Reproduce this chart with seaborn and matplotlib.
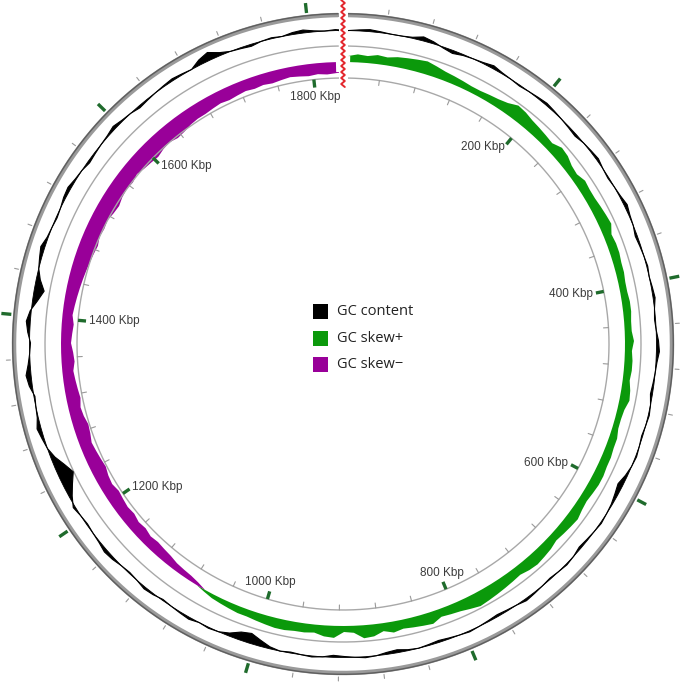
import numpy as np
import pandas as pd
import matplotlib
matplotlib.use("Agg")
import matplotlib.pyplot as plt
import seaborn as sns
from matplotlib.patches import Rectangle

# ---------------- data ----------------
genome_kbp = 1832
bin_kbp = 10
# GC content deviation per 10 kbp window (positive = outward)
gc_content = [0, 1, 2, 1, 0, 0, 1, 4, 2, -1, -3, -1, 0, 1, 3, 1, 0, -1, 0, 1,
              2, 1, 0, -1, -2, 0, 1, 2, 0, -1, 0, 1, 3, 1, 0, -2, -1, 0, 1, 0,
              1, 2, 0, -1, 0, 2, 3, 1, 0, -1, -2, 0, 1, 0, -1, 0, 1, 0, -2, -5,
              -3, -1, 0, 1, 0, -1, -2, 0, 1, 0, -1, 0, 1, 2, 0, -1, -2, -1, 0, 1,
              0, -1, -2, -1, 0, -1, -3, -2, 0, 1, 0, -1, -2, 0, 1, 0, -1, 0, -2, -6,
              -10, -8, -3, 0, 1, 0, 2, 1, 0, -1, 1, 2, 0, -1, 0, 2, 3, 1, 0, -1,
              0, 2, -3, -9, -15, -10, -4, 0, 2, 4, 1, 0, -1, 3, 5, 2, 0, -1, 2, 4,
              1, -5, -10, -4, 0, 2, 4, 1, 0, -1, 0, 2, 3, 1, 0, -2, -1, 0, 1, 3,
              1, 0, -2, -1, 0, 1, 2, 1, 0, 5, 8, 3, 0, -1, -2, 0, 1, 0, 2, 3, 1, 0, 1, 0]
# GC skew per 10 kbp window (x100; positive = skew+, negative = skew-)
gc_skew = [6, 8, 7, 9, 8, 10, 11, 12, 13, 11, 9, 8, 7, 6, 6, 7, 8, 10, 14, 13,
           11, 10, 9, 8, 12, 11, 8, 7, 10, 9, 9, 10, 11, 12, 8, 9, 9, 8, 8, 7,
           7, 8, 8, 7, 7, 9, 7, 8, 8, 7, 9, 10, 7, 6, 6, 8, 8, 9, 9, 10,
           10, 9, 8, 9, 11, 10, 9, 8, 10, 11, 12, 11, 9, 10, 11, 12, 13, 14, 12, 10,
           9, 8, 12, 11, 10, 9, 11, 8, 12, 13, 7, 6, 12, 11, 8, 9, 9, 10, 10, 9,
           8, 7, 7, 6, 5, 4, 2,
           -3, -5, -6, -7, -9, -10, -11, -10, -12, -11, -13, -12, -13, -14, -12, -13, -15, -14, -13, -12,
           -14, -15, -13, -12, -14, -13, -12, -11, -13, -12, -10, -11, -12, -10, -11, -12, -13, -14, -15, -16,
           -17, -18, -16, -17, -16, -18, -19, -17, -16, -17, -15, -17, -18, -19, -17, -16, -18, -17, -15, -14,
           -14, -13, -12, -13, -12, -11, -12, -11, -12, -11, -10, -11, -12, -11, -12, -11, -10]
tick_kbp = [200, 400, 600, 800, 1000, 1200, 1400, 1600, 1800]
tick_labels = ["200 Kbp", "400 Kbp", "600 Kbp", "800 Kbp", "1000 Kbp",
               "1200 Kbp", "1400 Kbp", "1600 Kbp", "1800 Kbp"]
legend_labels = ["GC content", "GC skew+", "GC skew\u2212"]
legend_colors = ["#000000", "#0b990b", "#990099"]

# ---------------- styling ----------------
sns.set_theme(style="white")
plt.rcParams["font.family"] = ["Liberation Sans", "DejaVu Sans"]

CX, CY = 343.0, 344.0
R_OUT, R_GC, R_MID, R_SKEW, R_IN = 329.0, 313.5, 298.0, 282.0, 266.0
GAP = 0.9

fig = plt.figure(figsize=(6.83, 6.85), dpi=100)
ax = fig.add_axes([0, 0, 1, 1])
ax.set_xlim(0, 683)
ax.set_ylim(685, 0)
ax.axis("off")


def to_xy(r, deg):
    t = np.deg2rad(deg)
    return CX + r * np.sin(t), CY - r * np.cos(t)


def kbp2deg(k):
    return np.asarray(k, dtype=float) / genome_kbp * 360.0


def arc(r, color, lw):
    deg = np.linspace(GAP, 360 - GAP, 900)
    x, y = to_xy(r, deg)
    sns.lineplot(x=x, y=y, sort=False, estimator=None, color=color,
                 lw=lw, ax=ax, legend=False)


# rings
arc(R_OUT, "#9a9a9a", 3.2)
arc(R_OUT + 1.3, "#5e5e5e", 1.0)
arc(R_MID, "#a8a8a8", 1.0)
arc(R_IN, "#a8a8a8", 1.0)

# ---- GC content track ----
n = len(gc_content)
centers = (np.arange(n) + 0.5) * bin_kbp
deg = np.concatenate([[GAP], kbp2deg(centers), [360 - GAP]])
gc = np.array(gc_content, dtype=float)
vals = np.concatenate([[gc[0]], gc, [gc[-1]]])
ox, oy = to_xy(R_GC + vals, deg)
bx, by = to_xy(R_GC, deg)
ax.fill(np.concatenate([ox, bx[::-1]]), np.concatenate([oy, by[::-1]]),
        color="black", lw=0)
sns.lineplot(x=ox, y=oy, sort=False, estimator=None, color="black", lw=0.8,
             ax=ax, legend=False)
sns.lineplot(x=bx, y=by, sort=False, estimator=None, color="black", lw=0.6,
             ax=ax, legend=False)

# ---- GC skew track ----
sk = np.array(gc_skew, dtype=float)
m = len(sk)
scenters = (np.arange(m) + 0.5) * bin_kbp
svals = np.concatenate([[sk[0]], sk, [sk[-1]]])
sdeg = np.concatenate([[GAP * 1.6], kbp2deg(scenters), [360 - GAP * 1.6]])
for part, col in ((np.clip(svals, 0, None), legend_colors[1]),
                  (np.clip(svals, None, 0), legend_colors[2])):
    px, py = to_xy(R_SKEW + part, sdeg)
    qx, qy = to_xy(R_SKEW, sdeg)
    ax.fill(np.concatenate([px, qx[::-1]]), np.concatenate([py, qy[::-1]]),
            color=col, lw=0)

# ---- ticks ----
minor = np.arange(40, genome_kbp, 40)
for k in minor:
    if k % 200 == 0:
        continue
    d = kbp2deg(k)
    x, y = to_xy(np.array([R_OUT + 4, R_OUT + 8]), d)
    ax.plot(x, y, color="#9a9a9a", lw=0.8)
    x, y = to_xy(np.array([R_IN - 5, R_IN]), d)
    ax.plot(x, y, color="#9a9a9a", lw=0.8)

for k, lab in zip(tick_kbp, tick_labels):
    d = float(kbp2deg(k))
    x, y = to_xy(np.array([R_OUT + 4, R_OUT + 14]), d)
    ax.plot(x, y, color="#1f6b2c", lw=2.4, solid_capstyle="butt")
    x, y = to_xy(np.array([R_IN - 8, R_IN]), d)
    ax.plot(x, y, color="#1f6b2c", lw=2.4, solid_capstyle="butt")
    s, c = np.sin(np.deg2rad(d)), np.cos(np.deg2rad(d))
    ha = "right" if s > 0.4 else ("left" if s < -0.4 else "center")
    va = "top" if c > 0.9 else ("bottom" if c < -0.9 else "center")
    tx, ty = to_xy(255.0, d)
    ax.text(tx, ty, lab, ha=ha, va=va, fontsize=8.5, color="#3c3c3c")

# ---- origin marker (red wavy line) ----
ax.add_patch(Rectangle((CX - 4.5, 4), 9, 84, color="white", zorder=4, lw=0))
zy = np.arange(0, 89, 3.0)
zx = CX + np.where(np.arange(len(zy)) % 2 == 0, -1.8, 1.8)
ax.plot(zx, zy, color="#e3262d", lw=1.4, zorder=5)

# ---- legend ----
rows_y = [311.5, 338.0, 364.5]
for yy, lab, col in zip(rows_y, legend_labels, legend_colors):
    ax.add_patch(Rectangle((313, yy - 7.5), 15, 15, color=col, lw=0))
    ax.text(337, yy, lab, ha="left", va="center", fontsize=10.5,
            color="#222222", family=["Open Sans", "DejaVu Sans"])

fig.savefig("out.png", dpi=100, facecolor="white")
